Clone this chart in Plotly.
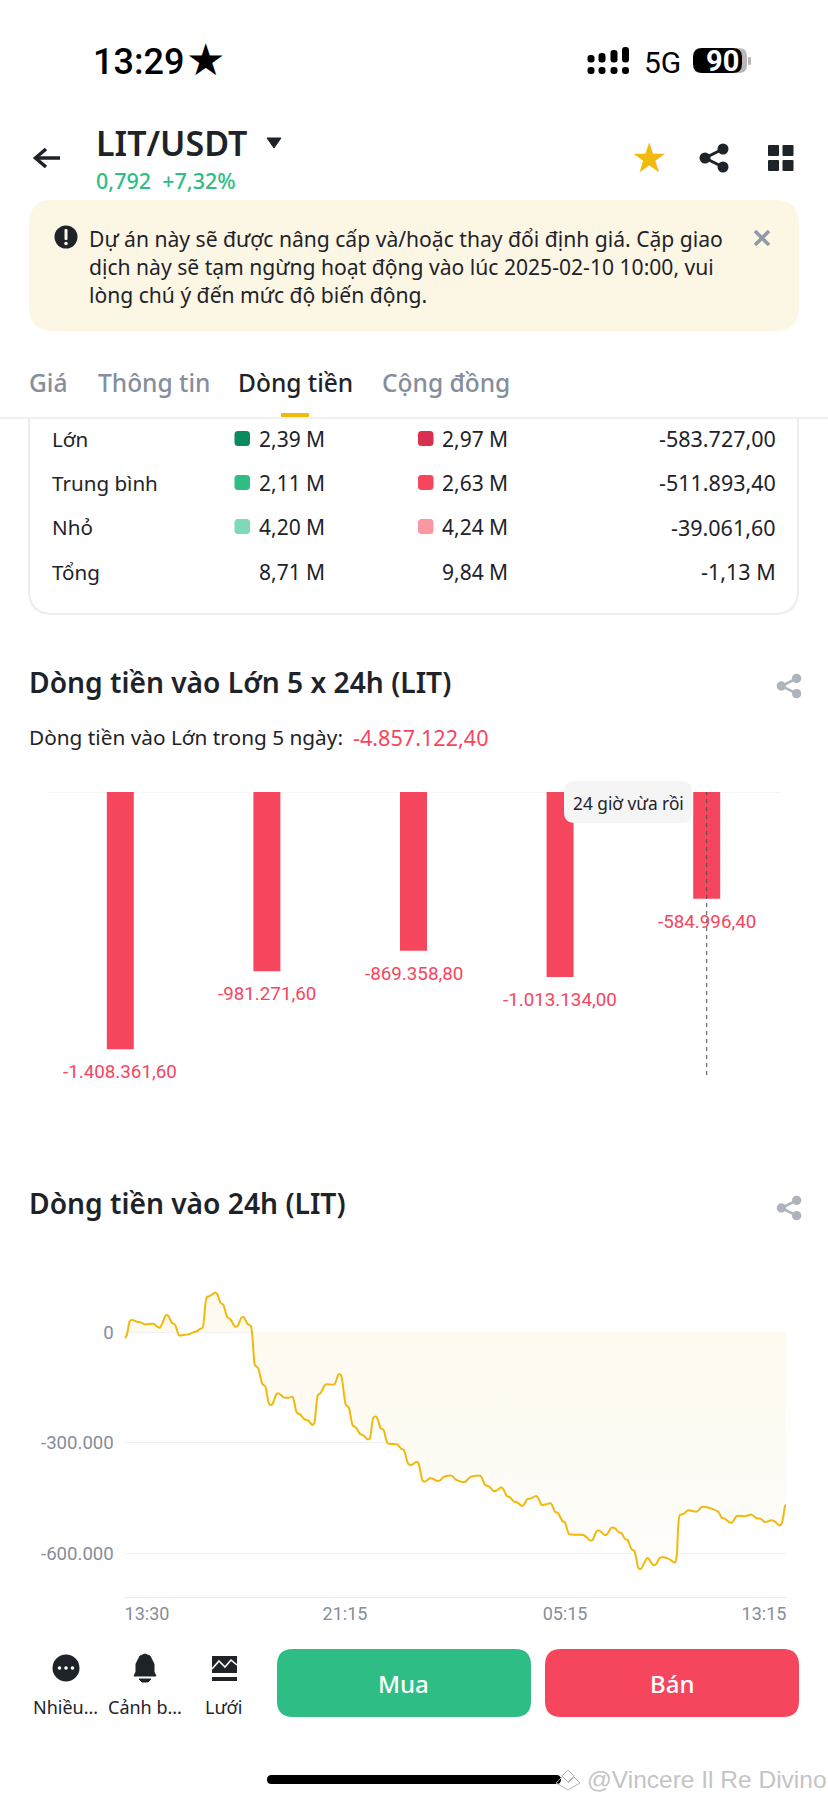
import plotly.graph_objects as go

#-------------------------------------------------------------------------------
# values
table_rows = ['Lớn', 'Trung bình', 'Nhỏ', 'Tổng']
table_in = ['2,39 M', '2,11 M', '4,20 M', '8,71 M']
table_out = ['2,97 M', '2,63 M', '4,24 M', '9,84 M']
table_net = ['-583.727,00', '-511.893,40', '-39.061,60', '-1,13 M']

days = ['5 ngày', '4 ngày', '3 ngày', '2 ngày', '24 giờ vừa rồi']
big_inflow = [-1408361.6, -981271.6, -869358.8, -1013134.0, -584996.4]
big_inflow_text = ['-1.408.361,60', '-981.271,60', '-869.358,80', '-1.013.134,00', '-584.996,40']

# minutes since 13:30
minutes = [0, 5, 11, 16, 27, 35, 45, 63, 72, 77, 85, 90, 95, 103, 110, 119, 128, 139, 150, 157,
           164, 170, 179, 188, 197, 202, 209, 215, 224, 230, 241, 246, 255, 260, 268, 275, 279,
           284, 291, 300, 306, 315, 321, 331, 336, 346, 357, 366, 375, 382, 392, 400, 409, 413,
           421, 427, 438, 457, 466, 471, 482, 488, 497, 504, 513, 521, 529, 534, 542, 548, 558,
           564, 573, 593, 602, 608, 618, 625, 636, 640, 649, 654, 665, 672, 681, 687, 696, 712,
           722, 741, 754, 775, 785, 794, 803, 810, 820, 825, 832, 839, 848, 855, 865, 870, 877,
           884, 896, 901, 908, 918, 928, 937, 944, 953, 959, 968, 999, 1006, 1013, 1019, 1028,
           1034, 1046, 1051, 1060, 1068, 1075, 1082, 1090, 1095, 1104, 1110, 1119, 1124, 1137,
           1140, 1151, 1157, 1166, 1184, 1198, 1202, 1209, 1217, 1227, 1246, 1257, 1278, 1293,
           1300, 1307, 1318, 1323, 1333, 1351, 1365, 1376, 1384, 1394, 1409, 1416, 1426, 1431,
           1438, 1440]
inflow_24h = [-17000, -8100, 28000, 33400, 28000, 26200, 20800, 22600, 14400, 11700, 32500, 46000,
              44200, 25300, 19900, -9000, -8100, -6300, -900, 1800, 8100, 11700, 93900, 99300,
              107500, 102900, 79500, 74100, 39700, 35200, 14400, 16300, 39700, 39700, 21700, 16300,
              -21700, -89400, -98400, -140900, -146300, -195000, -196900, -168000, -166200,
              -177000, -177900, -176100, -218500, -223000, -236600, -240200, -251900, -247400,
              -170700, -165200, -141800, -141800, -114700, -116500, -197800, -204100, -253700,
              -259200, -276300, -280800, -290800, -288100, -231200, -229400, -261000, -265500,
              -301600, -304300, -316000, -319700, -357600, -360300, -351300, -355800, -402700,
              -405400, -396400, -398200, -403600, -401800, -391900, -389200, -400900, -406400,
              -391900, -390100, -414500, -419000, -430700, -429800, -420800, -426200, -444300,
              -447900, -459600, -461400, -471400, -466900, -452400, -451500, -444300, -450600,
              -468700, -466900, -464100, -486700, -491200, -512000, -516500, -547200, -549900,
              -556200, -564400, -563500, -539100, -538200, -550800, -547200, -530100, -531900,
              -541800, -545400, -561700, -563500, -588800, -593300, -640200, -642000, -613100,
              -613100, -631200, -629400, -611300, -614000, -624900, -608600, -495700, -493000,
              -483100, -486700, -474100, -478600, -487600, -503000, -505700, -516500, -515600,
              -498500, -499400, -494800, -504800, -505700, -514700, -510200, -513800, -524600,
              -518300, -471400, -467800]
line_tickvals = [49, 480, 959, 1392]
line_ticktext = ['13:30', '21:15', '05:15', '13:15']
flow_tickvals = [0, -300000, -600000]
flow_ticktext = ['0', '-300.000', '-600.000']

W, H = 828, 1800
DARK = '#1e2329'
GREY = '#848e9c'
GREEN = '#2ebd85'
RED = '#f6465d'
YELLOW = '#f0b90b'
FONT = 'Noto Sans'

def X(x):
    return x / W

def Y(y):
    return 1 - y / H

#-------------------------------------------------------------------------------
# helpers for the app chrome around the charts, everything in screen pixels
shapes = []
annotations = []

def txt(x, y, text, size, color=DARK, anchor='left', weight=400, family=FONT):
    annotations.append(dict(x=X(x), y=Y(y), xref='paper', yref='paper', text=text, showarrow=False,
                            xanchor=anchor, yanchor='middle', borderpad=0,
                            font=dict(size=size, color=color, family=family, weight=weight)))

def path(points, fill=None, line=None, width=0, close=True):
    d = ''
    for i, (a, b) in enumerate(points):
        d += ('M' if i == 0 else 'L') + f'{X(a):.5f},{Y(b):.5f} '
    if close:
        d += 'Z'
    shapes.append(dict(type='path', path=d, xref='paper', yref='paper', layer='above',
                       fillcolor=fill if fill else 'rgba(0,0,0,0)',
                       line=dict(color=line if line else 'rgba(0,0,0,0)', width=width)))

def rrect(x0, y0, x1, y1, r, fill=None, line=None, width=0, layer='above'):
    def p(a, b):
        return f'{X(a):.5f},{Y(b):.5f}'
    d = (f'M{p(x0 + r, y0)} L{p(x1 - r, y0)} Q{p(x1, y0)} {p(x1, y0 + r)} '
         f'L{p(x1, y1 - r)} Q{p(x1, y1)} {p(x1 - r, y1)} L{p(x0 + r, y1)} '
         f'Q{p(x0, y1)} {p(x0, y1 - r)} L{p(x0, y0 + r)} Q{p(x0, y0)} {p(x0 + r, y0)} Z')
    shapes.append(dict(type='path', path=d, xref='paper', yref='paper', layer=layer,
                       fillcolor=fill if fill else 'rgba(0,0,0,0)',
                       line=dict(color=line if line else 'rgba(0,0,0,0)', width=width)))

def circle(cx, cy, r, fill):
    shapes.append(dict(type='circle', xref='paper', yref='paper', layer='above',
                       x0=X(cx - r), x1=X(cx + r), y0=Y(cy + r), y1=Y(cy - r),
                       fillcolor=fill, line=dict(width=0)))

def share_icon(cx, cy, scale, color):
    path([(cx + 9 * scale, cy - 9 * scale), (cx - 9 * scale, cy), (cx + 9 * scale, cy + 9 * scale)],
         line=color, width=3 * scale, close=False)
    circle(cx - 9 * scale, cy, 5.5 * scale, color)
    circle(cx + 9 * scale, cy - 9 * scale, 5.5 * scale, color)
    circle(cx + 9 * scale, cy + 9 * scale, 5.5 * scale, color)

#-------------------------------------------------------------------------------
# status bar
txt(91.5, 62, '13:29', 36, '#000000', weight=500, family='Roboto')
txt(205, 60, '★', 44, '#000000', anchor='center', family='DejaVu Sans')
for cx, top in zip([591, 602, 614, 625.5], [55, 53, 50, 47]):
    rrect(cx - 3.5, top, cx + 3.5, 62.5, 3, fill='#000000')
    rrect(cx - 3.5, 67, cx + 3.5, 74, 3, fill='#000000')
txt(643, 62, '5G', 30, '#000000', family='Roboto')
rrect(732, 48, 747, 73, 8, fill='#b8b8b8')
rrect(693, 48, 742, 73, 9, fill='#000000')
rrect(748, 57, 751, 65, 1, fill='#b8b8b8')
txt(722, 60.5, '90', 29, '#ffffff', anchor='center', weight=700, family='Roboto')

# header
path([(60, 158), (36, 158)], line=DARK, width=3.5, close=False)
path([(46, 149), (35.5, 158), (46, 167)], line=DARK, width=3.5, close=False)
txt(95, 143, 'LIT/USDT', 34, DARK, weight=600)
path([(267, 138), (281, 138), (274, 148)], fill=DARK, line=DARK, width=1)
txt(95, 181, '0,792&nbsp;&nbsp;+7,32%', 21.5, GREEN, weight=500)
txt(649, 158, '★', 41, YELLOW, anchor='center', family='DejaVu Sans')
share_icon(714, 158, 1, DARK)
for xa in [768, 782.5]:
    for ya in [145, 160]:
        rrect(xa, ya, xa + 11, ya + 11, 1, fill=DARK)

# notice
rrect(29, 200, 799, 331, 24, fill='#fcf6e5', layer='below')
circle(66, 237, 11.5, DARK)
rrect(64.5, 229, 67.5, 240, 1, fill='#fcf6e5')
circle(66, 243.5, 1.8, '#fcf6e5')
txt(88, 238, 'Dự án này sẽ được nâng cấp và/hoặc thay đổi định giá. Cặp giao', 21.1)
txt(88, 266, 'dịch này sẽ tạm ngừng hoạt động vào lúc 2025-02-10 10:00, vui', 21.1)
txt(88, 294, 'lòng chú ý đến mức độ biến động.', 21.1)
path([(755, 231), (769, 245)], line='#929aa5', width=3.5, close=False)
path([(769, 231), (755, 245)], line='#929aa5', width=3.5, close=False)

# table card, the top edge is hidden under the tabs
rrect(29, 345, 798, 614, 24, line='#eaecef', width=2, layer='below')
rrect(0, 335, 828, 418, 0, fill='#ffffff', layer='below')

# tabs
for tab_x, tab, col in zip([28, 97, 237, 381], ['Giá', 'Thông tin', 'Dòng tiền', 'Cộng đồng'],
                           [GREY, GREY, DARK, GREY]):
    txt(tab_x, 383, tab, 24.5, col, weight=500)
rrect(281, 413, 309, 417, 0, fill=YELLOW)
path([(0, 418), (828, 418)], line='#eaecef', width=1.5, close=False)

row_y = [439, 483, 527, 572]
swatch_in = ['#0b8a5f', GREEN, '#7fd8b6']
swatch_out = ['#d9304f', RED, '#fa97a3']
for i, yy in enumerate(row_y):
    txt(51, yy, table_rows[i], 20.6)
    txt(258, yy, table_in[i], 21)
    txt(441, yy, table_out[i], 21)
    txt(777, yy, table_net[i], 21.5, anchor='right')
    if i < 3:
        rrect(234.5, yy - 8, 250, yy + 7, 3.5, fill=swatch_in[i])
        rrect(418, yy - 8, 433.5, yy + 7, 3.5, fill=swatch_out[i])

# section titles
txt(28, 682, 'Dòng tiền vào Lớn 5 x 24h (LIT)', 28.2, weight=600)
share_icon(789, 686, 0.85, '#aeb4bc')
txt(28, 737, 'Dòng tiền vào Lớn trong 5 ngày:', 20.8)
txt(352, 737, '-4.857.122,40', 21.6, RED)
txt(28, 1203, 'Dòng tiền vào 24h (LIT)', 28.2, weight=600)
share_icon(789, 1208, 0.85, '#aeb4bc')

# tooltip of the bar chart
rrect(564, 781, 692, 823, 11, fill='#f5f5f5')
txt(628, 803, days[-1], 17.3, anchor='center')

# bottom bar
circle(66, 1668, 13.5, DARK)
for dx in [-6.5, 0, 6.5]:
    circle(66 + dx, 1668, 1.8, '#ffffff')
path([(134, 1676), (136, 1672), (136, 1664), (140, 1656), (145, 1654), (150, 1656), (154, 1664), (154, 1672), (156, 1676)],
     fill=DARK, line=DARK, width=1)
path([(139, 1679), (151, 1679), (148, 1682), (142, 1682)], fill=DARK, line=DARK, width=1)
rrect(212, 1656, 237, 1673, 0, fill=DARK)
path([(212, 1669), (219, 1661), (225, 1667), (231, 1660), (237, 1665)], line='#ffffff', width=1.6, close=False)
rrect(212, 1677, 237, 1681, 0, fill=DARK)
txt(65.5, 1707, 'Nhiều...', 18, anchor='center')
txt(145, 1707, 'Cảnh b...', 18, anchor='center')
txt(224, 1707, 'Lưới', 18, anchor='center')
rrect(277, 1649, 531, 1717, 16, fill=GREEN)
rrect(545, 1649, 799, 1717, 16, fill=RED)
txt(403, 1683, 'Mua', 24, '#ffffff', anchor='center', weight=500)
txt(672, 1683, 'Bán', 24, '#ffffff', anchor='center', weight=500)
rrect(267, 1775, 561, 1784, 4.5, fill='#000000')

# watermark
path([(562, 1776), (568, 1770), (574, 1776), (568, 1782)], fill='#ffffff', line='#b5b5b5', width=1)
path([(568, 1783), (574, 1777), (580, 1783), (568, 1790), (556, 1783), (562, 1777)], line='#b5b5b5', width=1, close=False)
txt(586, 1779, '@Vincere Il Re Divino', 24.5, '#c4c4c4', family='Liberation Sans')

#-------------------------------------------------------------------------------
fig = go.Figure()

fig.add_trace(go.Bar(x=days, y=big_inflow, marker_color=RED, marker_line_width=0,
                     xaxis='x', yaxis='y', width=0.184))
for day, val, label in zip(days, big_inflow, big_inflow_text):
    annotations.append(dict(x=day, y=val, xref='x', yref='y', text=label, showarrow=False, yshift=-23,
                            xanchor='center', yanchor='middle',
                            font=dict(size=18.8, color=RED, family='Roboto')))
shapes.append(dict(type='line', xref='x', yref='paper', x0=days[-1], x1=days[-1],
                   y0=Y(1075), y1=Y(792), layer='above',
                   line=dict(color='#474d57', width=1, dash='4px,4px')))

fig.add_trace(go.Scatter(x=minutes, y=inflow_24h, mode='lines', xaxis='x2', yaxis='y2',
                         line=dict(color=YELLOW, width=2, shape='spline', smoothing=0.7),
                         fill='tozeroy',
                         fillgradient=dict(type='vertical', start=0, stop=-640000,
                                           colorscale=[[0, '#fefaf0'], [1, '#fffdfa']])))

fig.update_layout(
    width=W, height=H, autosize=False, margin=dict(l=0, r=0, t=0, b=0),
    paper_bgcolor='#ffffff', plot_bgcolor='#ffffff',
    showlegend=False, hovermode=False, bargap=0.8,
    shapes=shapes, annotations=annotations,
    xaxis=dict(domain=[X(47), X(780)], anchor='y', showticklabels=False, showgrid=False,
               zeroline=False, fixedrange=True, type='category'),
    yaxis=dict(domain=[Y(1075), Y(792)], anchor='x', range=[-1550000, 0], showticklabels=False,
               showgrid=False, zeroline=False, fixedrange=True, showline=False),
    xaxis2=dict(domain=[X(124.5), X(786)], anchor='y2', range=[0, 1440], tickvals=line_tickvals,
                ticktext=line_ticktext, showgrid=False, zeroline=False, showline=True,
                linecolor='#eaecef', linewidth=1, ticks='outside', ticklen=1,
                tickcolor='rgba(0,0,0,0)', fixedrange=True,
                tickfont=dict(size=18, color=GREY, family='Roboto')),
    yaxis2=dict(domain=[Y(1596.6), Y(1290)], anchor='x2', range=[-717000, 114000],
                tickvals=flow_tickvals, ticktext=flow_ticktext, showgrid=True, gridcolor='#eff1f3',
                gridwidth=1, zeroline=False, showline=False, ticks='outside', ticklen=6,
                tickcolor='rgba(0,0,0,0)', fixedrange=True,
                tickfont=dict(size=18.6, color=GREY, family='Roboto')),
)
# top rule of the bar chart
fig.add_shape(type='line', xref='x domain', yref='y', x0=0, x1=1, y0=0, y1=0, layer='below',
              line=dict(color='#eeeeee', width=1))

fig.write_html('out.html', config={'displayModeBar': False},
               post_script="document.body.style.margin='0';")
